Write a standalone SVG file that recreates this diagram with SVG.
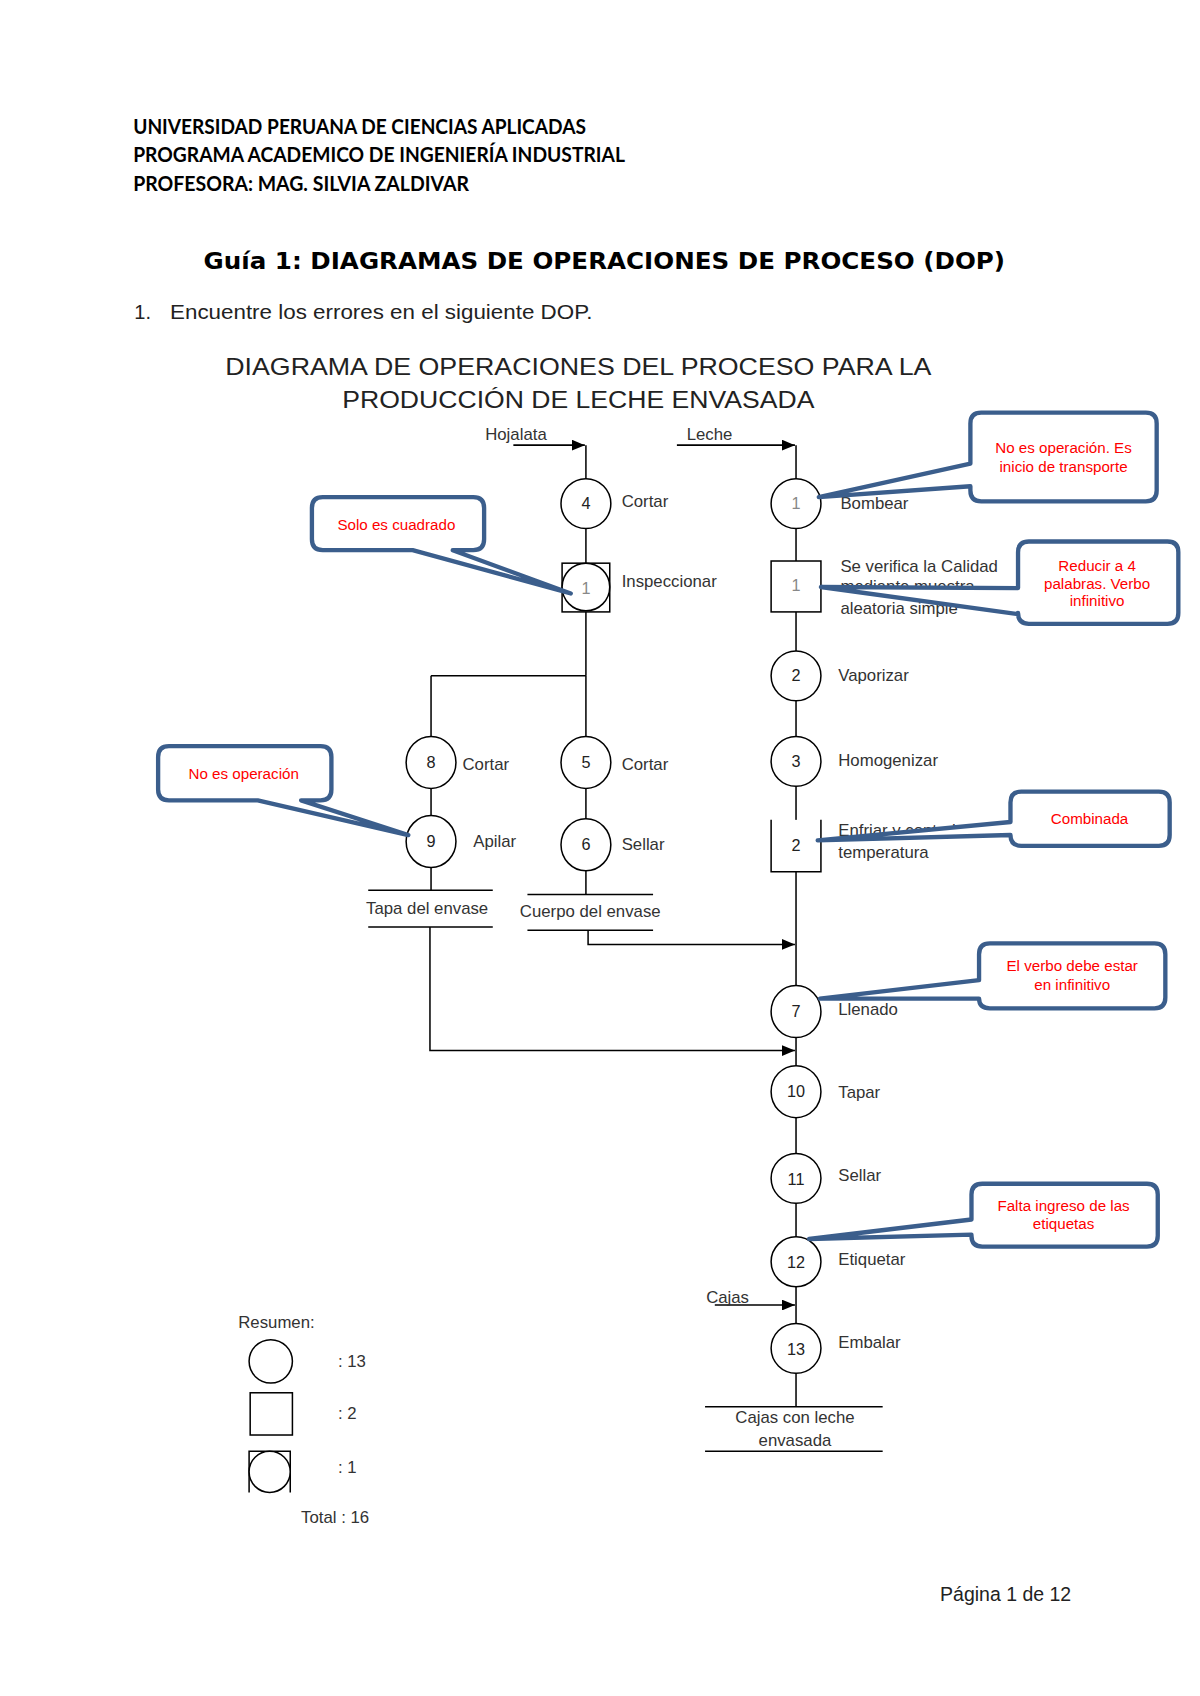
<svg xmlns="http://www.w3.org/2000/svg" width="1200" height="1696" viewBox="0 0 1200 1696">
<defs>
<marker id="arr" markerWidth="12" markerHeight="10" refX="12" refY="5" orient="auto" markerUnits="userSpaceOnUse">
<path d="M0,0 L12,5 L0,10 Z" fill="#000"/>
</marker>
<style>
.hdr{font-family:Lato,"Open Sans",sans-serif;font-weight:bold;font-size:18.5px;fill:#000}
.lbl{font-family:"Liberation Sans",Arial,sans-serif;font-size:15.5px;fill:#333}
.num{font-family:"Liberation Sans",Arial,sans-serif;font-size:15px;fill:#222;text-anchor:middle}
.gnum{font-family:"Liberation Sans",Arial,sans-serif;font-size:15px;fill:#888;text-anchor:middle}
.red{font-family:"Liberation Sans",Arial,sans-serif;font-size:14px;fill:#ff0000;text-anchor:middle}
.sym{fill:#fff;stroke:#000;stroke-width:1.4}
.ln{fill:none;stroke:#000;stroke-width:1.4}
.co{fill:#fff;stroke:#3b5e8c;stroke-width:4;stroke-linejoin:round}
</style>
</defs>
<rect width="1200" height="1696" fill="#fff"/>
<g transform="scale(1.08303)">
<g id="header">
<text class="hdr" x="123" y="124" textLength="418" lengthAdjust="spacingAndGlyphs">UNIVERSIDAD PERUANA DE CIENCIAS APLICADAS</text>
<text class="hdr" x="123" y="150" textLength="454" lengthAdjust="spacingAndGlyphs">PROGRAMA ACADEMICO DE INGENIERÍA INDUSTRIAL</text>
<text class="hdr" x="123" y="176" textLength="310" lengthAdjust="spacingAndGlyphs">PROFESORA: MAG. SILVIA ZALDIVAR</text>
<text x="188" y="248" font-family="'DejaVu Sans',Verdana,sans-serif" font-weight="bold" font-size="21" textLength="740" lengthAdjust="spacingAndGlyphs">Guía 1: DIAGRAMAS DE OPERACIONES DE PROCESO (DOP)</text>
<text x="124" y="295" font-family="'Liberation Sans',Arial,sans-serif" font-size="18.5" fill="#222">1.</text>
<text x="157" y="295" font-family="'Liberation Sans',Arial,sans-serif" font-size="18.5" fill="#222" textLength="390" lengthAdjust="spacingAndGlyphs">Encuentre los errores en el siguiente DOP.</text>
<text x="208" y="346" font-family="'Liberation Sans',Arial,sans-serif" font-size="22.5" fill="#222" textLength="652" lengthAdjust="spacingAndGlyphs">DIAGRAMA DE OPERACIONES DEL PROCESO PARA LA</text>
<text x="316" y="377" font-family="'Liberation Sans',Arial,sans-serif" font-size="22.5" fill="#222" textLength="436" lengthAdjust="spacingAndGlyphs">PRODUCCIÓN DE LECHE ENVASADA</text>
</g>

<g id="connectors">
<line class="ln" x1="474" y1="411" x2="540" y2="411" marker-end="url(#arr)"/>
<line class="ln" x1="541" y1="411" x2="541" y2="624"/>
<line class="ln" x1="398" y1="624" x2="541" y2="624"/>
<line class="ln" x1="398" y1="624" x2="398" y2="822"/>
<line class="ln" x1="541" y1="624" x2="541" y2="826"/>
<line class="ln" x1="340" y1="822" x2="455" y2="822"/>
<line class="ln" x1="340" y1="856" x2="455" y2="856"/>
<line class="ln" x1="487" y1="826" x2="603" y2="826"/>
<line class="ln" x1="487" y1="859" x2="603" y2="859"/>
<polyline class="ln" points="397,856 397,970 734,970" marker-end="url(#arr)"/>
<polyline class="ln" points="543,859 543,872 734,872" marker-end="url(#arr)"/>
<line class="ln" x1="625" y1="411" x2="734" y2="411" marker-end="url(#arr)"/>
<line class="ln" x1="735" y1="411" x2="735" y2="1299"/>
<line class="ln" x1="660" y1="1205" x2="734" y2="1205" marker-end="url(#arr)"/>
<line class="ln" x1="651" y1="1299" x2="815" y2="1299"/>
<line class="ln" x1="651" y1="1340" x2="815" y2="1340"/>
</g>

<g id="n-hojalata"><text class="lbl" x="448" y="406">Hojalata</text></g>
<g id="n-leche"><text class="lbl" x="634" y="406">Leche</text></g>

<g id="op4"><circle class="sym" cx="541" cy="465" r="23"/><text class="num" x="541" y="470">4</text><text class="lbl" x="574" y="468">Cortar</text></g>
<g id="comb1"><rect class="sym" x="519" y="520" width="44" height="45"/><circle class="sym" cx="541" cy="542" r="22"/><text class="gnum" x="541" y="548">1</text><text class="lbl" x="574" y="542">Inspeccionar</text></g>
<g id="op8"><ellipse class="sym" cx="398" cy="704" rx="23" ry="24"/><text class="num" x="398" y="709">8</text><text class="lbl" x="427" y="711">Cortar</text></g>
<g id="op9"><ellipse class="sym" cx="398" cy="777" rx="23" ry="24"/><text class="num" x="398" y="782">9</text><text class="lbl" x="437" y="782">Apilar</text></g>
<g id="op5"><ellipse class="sym" cx="541" cy="704" rx="23" ry="24"/><text class="num" x="541" y="709">5</text><text class="lbl" x="574" y="711">Cortar</text></g>
<g id="op6"><ellipse class="sym" cx="541" cy="780" rx="23" ry="24"/><text class="num" x="541" y="785">6</text><text class="lbl" x="574" y="785">Sellar</text></g>
<g id="tapa"><text class="lbl" x="338" y="844" font-size="13.5">Tapa del envase</text></g>
<g id="cuerpo"><text class="lbl" x="480" y="847" font-size="13.5">Cuerpo del envase</text></g>

<g id="op1"><circle class="sym" cx="735" cy="465" r="23"/><text class="gnum" x="735" y="470">1</text><text class="lbl" x="776" y="470">Bombear</text></g>
<g id="ins1"><rect class="sym" x="712" y="518" width="46" height="47"/><text class="gnum" x="735" y="546">1</text><text class="lbl" x="776" y="528">Se verifica la Calidad</text><text class="lbl" x="776" y="547">mediante muestra</text><text class="lbl" x="776" y="567">aleatoria simple</text></g>
<g id="op2"><circle class="sym" cx="735" cy="624" r="23"/><text class="num" x="735" y="629">2</text><text class="lbl" x="774" y="629">Vaporizar</text></g>
<g id="op3"><circle class="sym" cx="735" cy="703" r="23"/><text class="num" x="735" y="708">3</text><text class="lbl" x="774" y="707">Homogenizar</text></g>
<g id="ins2"><rect x="712" y="757" width="46" height="48" fill="#fff"/><path class="ln" d="M712,757 V805 H758 V757"/><text class="num" x="735" y="786">2</text><text class="lbl" x="774" y="772">Enfriar y controlar</text><text class="lbl" x="774" y="792">temperatura</text></g>
<g id="op7"><ellipse class="sym" cx="735" cy="934" rx="23" ry="24"/><text class="num" x="735" y="939">7</text><text class="lbl" x="774" y="937">Llenado</text></g>
<g id="op10"><ellipse class="sym" cx="735" cy="1008" rx="23" ry="24"/><text class="num" x="735" y="1013">10</text><text class="lbl" x="774" y="1014">Tapar</text></g>
<g id="op11"><circle class="sym" cx="735" cy="1088" r="23"/><text class="num" x="735" y="1094">11</text><text class="lbl" x="774" y="1090">Sellar</text></g>
<g id="op12"><circle class="sym" cx="735" cy="1165" r="23"/><text class="num" x="735" y="1171">12</text><text class="lbl" x="774" y="1168">Etiquetar</text></g>
<g id="n-cajas"><text class="lbl" x="652" y="1203">Cajas</text></g>
<g id="op13"><circle class="sym" cx="735" cy="1245" r="23"/><text class="num" x="735" y="1251">13</text><text class="lbl" x="774" y="1245">Embalar</text></g>
<g id="final"><text class="lbl" x="734" y="1314" text-anchor="middle">Cajas con leche</text><text class="lbl" x="734" y="1335" text-anchor="middle">envasada</text></g>

<g id="resumen">
<text class="lbl" x="220" y="1226">Resumen:</text>
<circle class="sym" cx="250" cy="1257" r="20"/>
<text class="lbl" x="312" y="1262" font-size="14">: 13</text>
<rect class="sym" x="231" y="1286" width="39" height="39"/>
<text class="lbl" x="312" y="1310" font-size="14">: 2</text>
<path class="ln" d="M230,1378 V1340 H268 V1378"/>
<circle class="sym" cx="249" cy="1359" r="19" fill="none"/>
<text class="lbl" x="312" y="1360" font-size="14">: 1</text>
<text class="lbl" x="278" y="1406" font-size="14">Total : 16</text>
</g>

<g id="callouts">
<g id="c1"><path class="co" d="M906,381 H1058 Q1068,381 1068,391 V453 Q1068,463 1058,463 H906 Q896,463 896,453 V449 L756,459 L896,428 V391 Q896,381 906,381 Z"/><text class="red" x="982" y="418">No es operación. Es</text><text class="red" x="982" y="436">inicio de transporte</text></g>
<g id="c2"><path class="co" d="M950,500 H1078 Q1088,500 1088,510 V566 Q1088,576 1078,576 H950 Q940,576 940,566 V567 L758,542 L940,543 V510 Q940,500 950,500 Z"/><text class="red" x="1013" y="527">Reducir a 4</text><text class="red" x="1013" y="544">palabras. Verbo</text><text class="red" x="1013" y="560">infinitivo</text></g>
<g id="c3"><path class="co" d="M298,459 H437 Q447,459 447,469 V498 Q447,508 437,508 H418 L527,548 L381,508 H298 Q288,508 288,498 V469 Q288,459 298,459 Z"/><text class="red" x="366" y="489">Solo es cuadrado</text></g>
<g id="c4"><path class="co" d="M156,689 H296 Q306,689 306,699 V729 Q306,739 296,739 H278 L377,771 L238,739 H156 Q146,739 146,729 V699 Q146,689 156,689 Z"/><text class="red" x="225" y="719">No es operación</text></g>
<g id="c5"><path class="co" d="M943,731 H1070 Q1080,731 1080,741 V771 Q1080,781 1070,781 H943 Q933,781 933,771 L755,776 L933,759 V741 Q933,731 943,731 Z"/><text class="red" x="1006" y="761">Combinada</text></g>
<g id="c6"><path class="co" d="M914,871 H1066 Q1076,871 1076,881 V921 Q1076,931 1066,931 H914 Q904,931 904,922 L757,922 L904,905 V881 Q904,871 914,871 Z"/><text class="red" x="990" y="897">El verbo debe estar</text><text class="red" x="990" y="914">en infinitivo</text></g>
<g id="c7"><path class="co" d="M907,1093 H1059 Q1069,1093 1069,1103 V1141 Q1069,1151 1059,1151 H907 Q897,1151 897,1141 V1140 L747,1144 L897,1126 V1103 Q897,1093 907,1093 Z"/><text class="red" x="982" y="1118">Falta ingreso de las</text><text class="red" x="982" y="1135">etiquetas</text></g>
</g>

<g id="footer"><text x="868" y="1478" font-family="'Liberation Sans',Arial,sans-serif" font-size="18" fill="#222">Página 1 de 12</text></g>
</g>
</svg>
